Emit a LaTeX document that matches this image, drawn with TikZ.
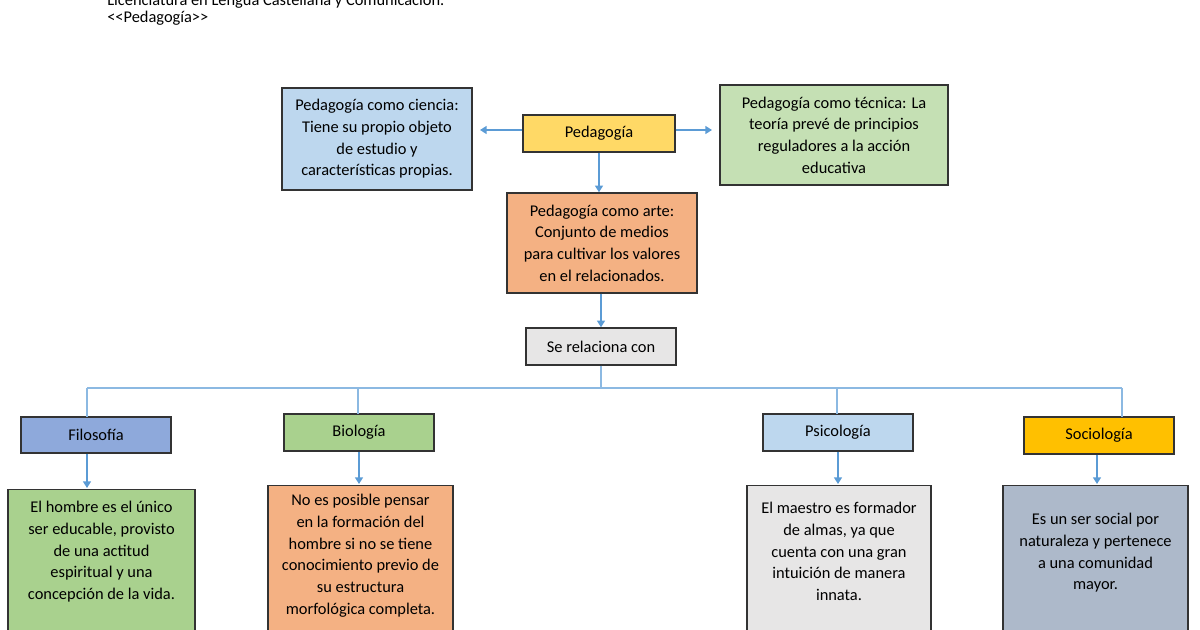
\documentclass[tikz,border=0pt]{standalone}
\usepackage{fontspec}
\setmainfont{Carlito}
\usetikzlibrary{arrows.meta}
\definecolor{ablue}{HTML}{5B9BD5}
\definecolor{cyel}{HTML}{FFD966}
\definecolor{clblue}{HTML}{BDD7EE}
\definecolor{cgreen}{HTML}{C5E0B4}
\definecolor{corange}{HTML}{F4B183}
\definecolor{cgray}{HTML}{E7E6E6}
\definecolor{cfilo}{HTML}{8EA9DB}
\definecolor{cbio}{HTML}{A9D18E}
\definecolor{csoc}{HTML}{FFC000}
\definecolor{cslate}{HTML}{ADB9CA}
\begin{document}
\begin{tikzpicture}[x=0.75pt,y=-0.75pt,
  fnt/.style={font=\fontsize{12.3pt}{16.3pt}\selectfont},
  box/.style={draw=black!80,line width=1.1pt,align=center,fnt,inner sep=0pt},
  txt/.style={anchor=north,align=center,fnt,inner sep=0pt},
  arr/.style={draw=ablue,line width=1.1pt,-{Triangle[length=5pt,width=6pt]}},
  ln/.style={draw=ablue!70,line width=0.8pt}]
\useasboundingbox (0,0) rectangle (1200,630);
\clip (0,0) rectangle (1200,630);
\node[anchor=west,fnt,inner sep=0pt] (h1) at (107,1) {Licenciatura en Lengua Castellana y Comunicación.};
\node[anchor=west,fnt,inner sep=0pt] (h2) at (107,18) {{<}{<}Pedagogía{>}{>}};
\node[box,fill=cyel,minimum width=114pt,minimum height=27.75pt] (ped) at (599,133.5) {Pedagogía};
\node[box,fill=clblue,minimum width=142.5pt,minimum height=76.5pt] (cie) at (377,139) {Pedagogía como ciencia:\\Tiene su propio objeto\\de estudio y\\características propias.};
\node[box,fill=cgreen,minimum width=171pt,minimum height=75pt] (tec) at (834,135) {Pedagogía como técnica: La\\teoría prevé de principios\\reguladores a la acción\\educativa};
\node[box,fill=corange,minimum width=142.5pt,minimum height=75pt] (art) at (602,243) {Pedagogía como arte:\\Conjunto de medios\\para cultivar los valores\\en el relacionados.};
\node[box,fill=cgray,minimum width=112.5pt,minimum height=27.75pt] (rel) at (601,346.5) {Se relaciona con};
\node[box,fill=cfilo,minimum width=112.5pt,minimum height=27pt] (fil) at (96,435) {Filosofía};
\node[box,fill=cbio,minimum width=112.5pt,minimum height=27.75pt] (bio) at (359,432.5) {Biología};
\node[box,fill=clblue,minimum width=112.5pt,minimum height=27.75pt] (psi) at (838,432.5) {Psicología};
\node[box,fill=csoc,minimum width=112.5pt,minimum height=27.75pt] (soc) at (1099,435.5) {Sociología};
\node[box,fill=cbio,minimum width=140pt,minimum height=120pt,anchor=north] (tfil) at (101.5,489) {};
\node[txt] (xfil) at (101.5,501) {El hombre es el único\\ser educable, provisto\\de una actitud\\espiritual y una\\concepción de la vida.};
\node[box,fill=corange,minimum width=139pt,minimum height=120pt,anchor=north] (tbio) at (360.5,485) {};
\node[txt] (xbio) at (360.5,494) {No es posible pensar\\en la formación del\\hombre si no se tiene\\conocimiento previo de\\su estructura\\morfológica completa.};
\node[box,fill=cgray,minimum width=138pt,minimum height=120pt,anchor=north] (tpsi) at (839,485) {};
\node[txt] (xpsi) at (839,502) {El maestro es formador\\de almas, ya que\\cuenta con una gran\\intuición de manera\\innata.};
\node[box,fill=cslate,minimum width=139pt,minimum height=120pt,anchor=north] (tsoc) at (1095.5,485) {};
\node[txt] (xsoc) at (1095.5,513) {Es un ser social por\\naturaleza y pertenece\\a una comunidad\\mayor.};
\coordinate (cl) at (480,130);
\coordinate (cr) at (712,130);
\draw[arr] (ped.west|-cl) -- (cl);
\draw[arr] (ped.east|-cr) -- (cr);
\draw[arr] (ped.south) -- (ped.south|-art.north);
\draw[arr] (rel.north|-art.south) -- (rel.north);
\coordinate (hl) at (87,388);
\coordinate (hr) at (1122,388);
\coordinate (hm) at (601,388);
\draw[ln] (rel.south) -- (hm);
\draw[ln] (hl) -- (hr);
\draw[ln] (hl) -- (87,417);
\draw[ln] (358,388) -- (358,414);
\draw[ln] (837,388) -- (837,414);
\draw[ln] (hr) -- (1122,417);
\draw[arr] (fil.south-|87,0) -- (87,488);
\draw[arr] (bio.south) -- (359,484);
\draw[arr] (psi.south) -- (838,484);
\draw[arr] (soc.south-|1097,0) -- (1097,484);
\end{tikzpicture}
\end{document}
